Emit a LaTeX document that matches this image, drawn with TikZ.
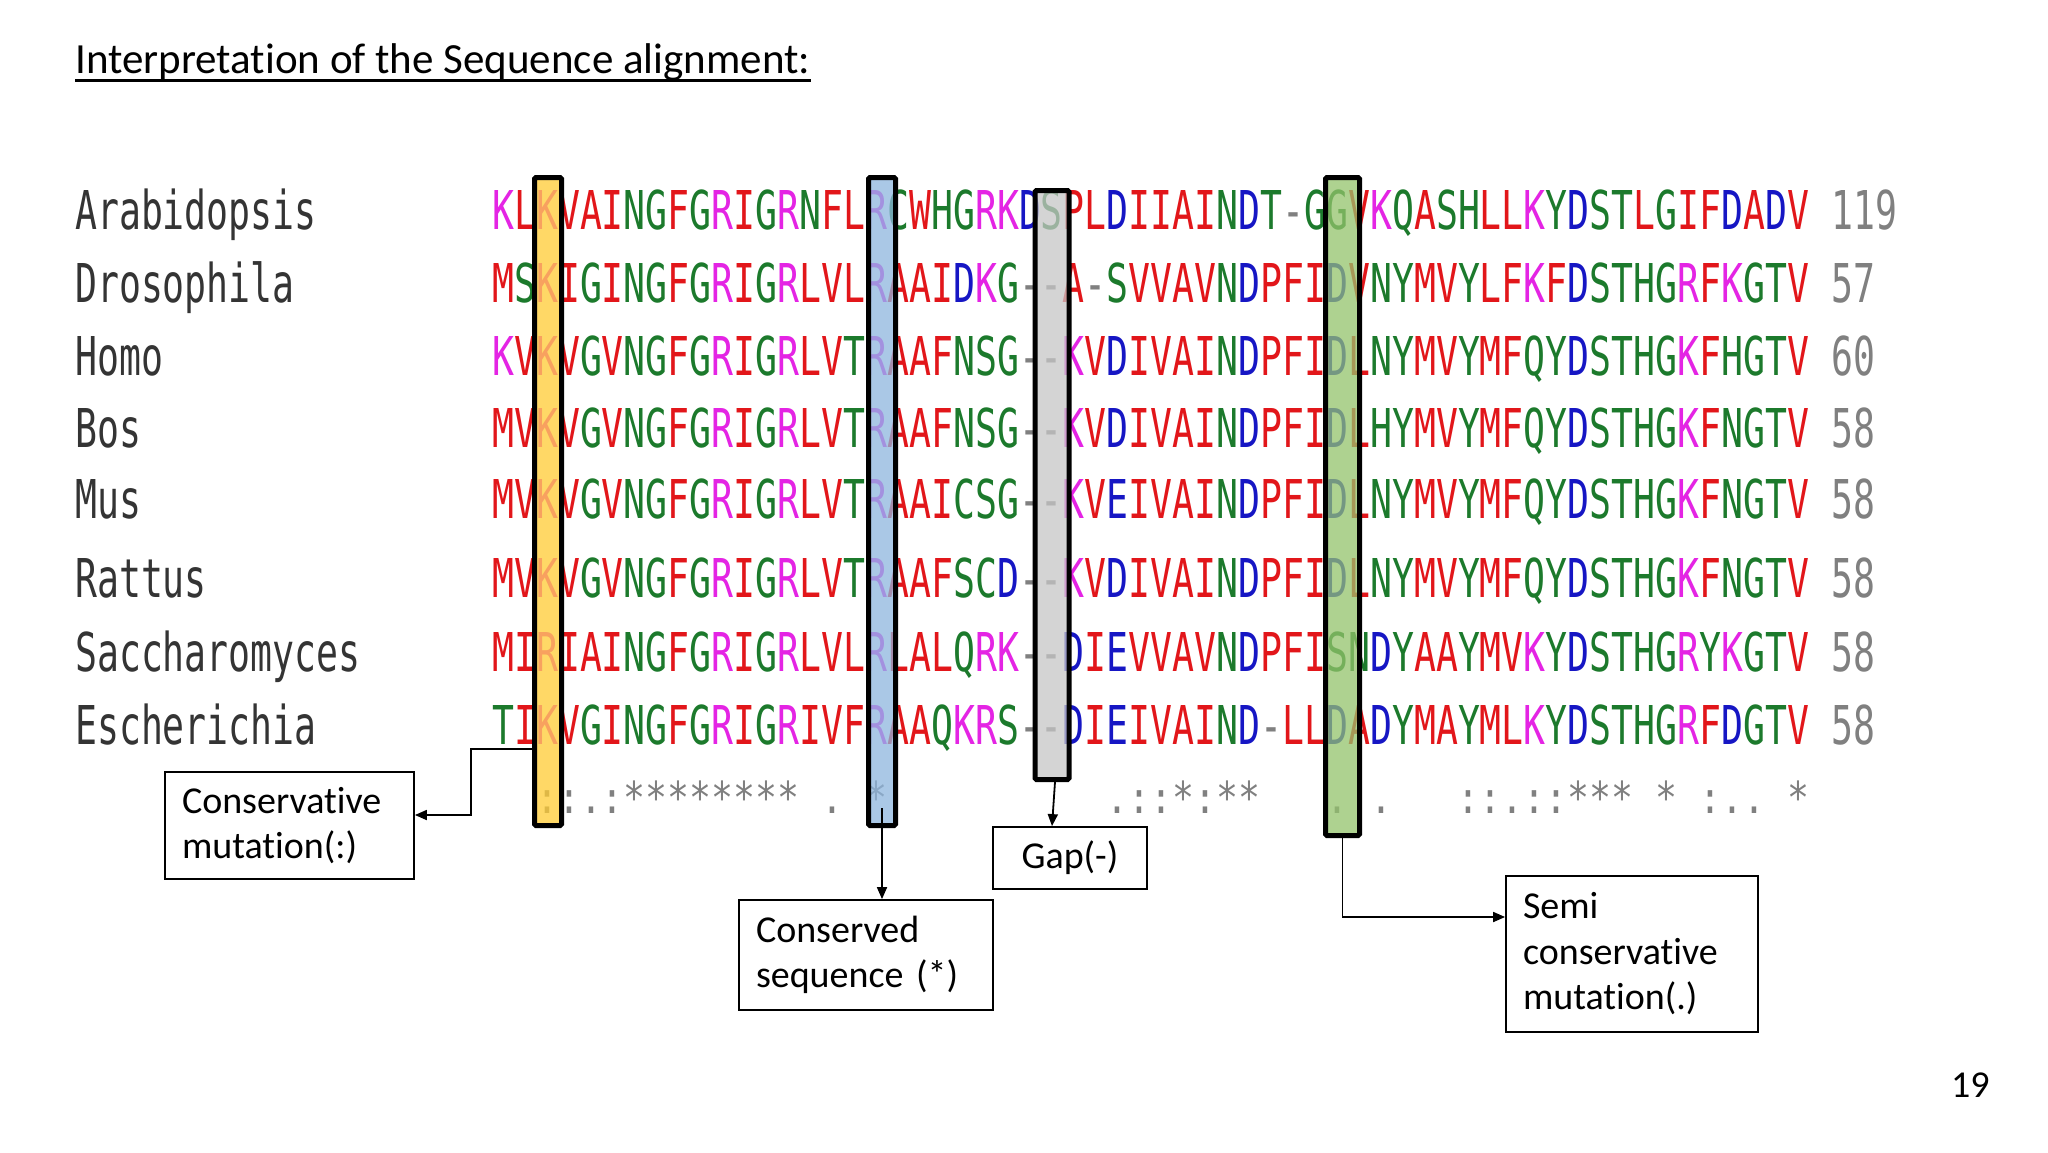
\documentclass[tikz,border=0pt]{standalone}
\usepackage{fontspec}
\setmainfont{Carlito}[Ligatures=NoCommon]
\newfontfamily\seqfont[FakeStretch=0.6815]{DejaVu Sans Mono}
\newfontfamily\consfont[FakeStretch=0.8286]{DejaVu Sans Mono}
\usepackage{tikz}
\usetikzlibrary{positioning}
\usetikzlibrary{arrows.meta}

\definecolor{aared}{RGB}{226,22,26}
\definecolor{aagreen}{RGB}{28,122,44}
\definecolor{aablue}{RGB}{22,22,196}
\definecolor{aamag}{RGB}{228,36,228}
\definecolor{aagrey}{RGB}{128,128,128}
\definecolor{namegrey}{RGB}{52,52,52}
\definecolor{hlyellow}{RGB}{255,204,51}
\definecolor{hlblue}{RGB}{142,182,222}
\definecolor{hlgrey}{RGB}{198,198,198}
\definecolor{hlgreen}{RGB}{148,195,108}

% one colour per residue
\makeatletter
\newcommand\defres[2]{\expandafter\def\csname res@#1\endcsname{\textcolor{#2}{#1}}}
\def\colseq#1{\colseq@#1\@nil}
\def\colseq@#1{\ifx#1\@nil\else\csname res@#1\endcsname\expandafter\colseq@\fi}
\expandafter\def\csname res@_\endcsname{\hphantom{*}}
\makeatother
\defres{A}{aared}\defres{V}{aared}\defres{F}{aared}\defres{P}{aared}
\defres{M}{aared}\defres{I}{aared}\defres{L}{aared}\defres{W}{aared}
\defres{D}{aablue}\defres{E}{aablue}
\defres{R}{aamag}\defres{K}{aamag}
\defres{S}{aagreen}\defres{T}{aagreen}\defres{Y}{aagreen}\defres{H}{aagreen}
\defres{C}{aagreen}\defres{N}{aagreen}\defres{G}{aagreen}\defres{Q}{aagreen}
\defres{-}{aagrey}\defres{*}{aagrey}\defres{:}{aagrey}\defres{.}{aagrey}

\tikzstyle{name_lab} = [anchor=base west, inner sep=0, text=namegrey, font=\seqfont\fontsize{53.5}{60}\selectfont]
\tikzstyle{seq_row} = [anchor=base west, inner sep=0, font=\seqfont\fontsize{53.5}{60}\selectfont]
\tikzstyle{cons_row} = [anchor=base west, inner sep=0, font=\consfont\fontsize{44}{50}\selectfont]
\tikzstyle{col_box} = [draw=black, line width=5pt, rounded corners=1.5pt, fill opacity=0.75, inner sep=0]
\tikzstyle{note} = [draw=black, line width=1.8pt, align=left, inner xsep=17pt, inner ysep=0, font=\fontsize{38}{45.5}\selectfont]
\tikzstyle{note_arrow} = [-{Triangle[length=12pt,width=10pt]}, line width=1.8pt]

\begin{document}
\begin{tikzpicture}[x=1pt, y=-1pt]
    \fill [white] (0,0) rectangle (2048,1152);
    \useasboundingbox (0,0) rectangle (2048,1152);

    \node [anchor=base west, inner sep=0, font=\fontsize{43}{50}\selectfont] (title) at (75,73) {Interpretation of the Sequence alignment:};
    \draw [line width=2.2pt] ([yshift=-7.5pt]title.base west) -- ([yshift=-7.5pt]title.base east);

    \node (arab_name) at (75,229) [name_lab] {Arabidopsis};
    \node (dros_name) at (75,302) [name_lab] {Drosophila};
    \node (homo_name) at (75,375) [name_lab] {Homo};
    \node (bos_name) at (75,447) [name_lab] {Bos};
    \node (mus_name) at (75,518) [name_lab] {Mus};
    \node (rat_name) at (75,597) [name_lab] {Rattus};
    \node (sacch_name) at (75,671) [name_lab] {Saccharomyces};
    \node (esch_name) at (75,744) [name_lab] {Escherichia};

    \node (arab_seq) at (492,229) [seq_row] {\colseq{KLKVAINGFGRIGRNFLRCWHGRKDSPLDIIAINDT-GGVKQASHLLKYDSTLGIFDADV}\textcolor{aagrey}{\hphantom{0}119}};
    \node (dros_seq) at (492,302) [seq_row] {\colseq{MSKIGINGFGRIGRLVLRAAIDKG--A-SVVAVNDPFIDVNYMVYLFKFDSTHGRFKGTV}\textcolor{aagrey}{\hphantom{0}57}};
    \node (homo_seq) at (492,375) [seq_row] {\colseq{KVKVGVNGFGRIGRLVTRAAFNSG--KVDIVAINDPFIDLNYMVYMFQYDSTHGKFHGTV}\textcolor{aagrey}{\hphantom{0}60}};
    \node (bos_seq) at (492,447) [seq_row] {\colseq{MVKVGVNGFGRIGRLVTRAAFNSG--KVDIVAINDPFIDLHYMVYMFQYDSTHGKFNGTV}\textcolor{aagrey}{\hphantom{0}58}};
    \node (mus_seq) at (492,518) [seq_row] {\colseq{MVKVGVNGFGRIGRLVTRAAICSG--KVEIVAINDPFIDLNYMVYMFQYDSTHGKFNGTV}\textcolor{aagrey}{\hphantom{0}58}};
    \node (rat_seq) at (492,597) [seq_row] {\colseq{MVKVGVNGFGRIGRLVTRAAFSCD--KVDIVAINDPFIDLNYMVYMFQYDSTHGKFNGTV}\textcolor{aagrey}{\hphantom{0}58}};
    \node (sacch_seq) at (492,671) [seq_row] {\colseq{MIRIAINGFGRIGRLVLRLALQRK--DIEVVAVNDPFISNDYAAYMVKYDSTHGRYKGTV}\textcolor{aagrey}{\hphantom{0}58}};
    \node (esch_seq) at (492,744) [seq_row] {\colseq{TIKVGINGFGRIGRIVFRAAQKRS--DIEIVAIND-LLDADYMAYMLKYDSTHGRFDGTV}\textcolor{aagrey}{\hphantom{0}58}};
    \node (cons_line) at (492,813) [cons_row] {\colseq{__::.:********_._*__________.::*:**___._.___::.::***_*_:.._*}};

    \node (k_col) at (548,501.5) [col_box, fill=hlyellow, minimum width=27pt, minimum height=648pt] {};
    \node (r_col) at (882,501.5) [col_box, fill=hlblue, minimum width=27pt, minimum height=648pt] {};
    \node (gap_col) at (1052,485) [col_box, fill=hlgrey, minimum width=34pt, minimum height=589pt] {};
    \node (d_col) at (1342.5,506.5) [col_box, fill=hlgreen, minimum width=34pt, minimum height=658pt] {};

    \node (cons_mut) at (289.5,825.5) [note, text width=215pt, minimum height=107pt] {Conservative\\mutation(:)};
    \node (cons_seq) at (866,955) [note, text width=220pt, minimum height=110pt] {Conserved\\sequence (*)};
    \node (gap_note) at (1070,858) [note, align=center, text width=120pt, minimum height=62pt] {Gap(-)};
    \node (semi_note) at (1632,954) [note, text width=218pt, minimum height=156pt] {Semi\\conservative\\mutation(.)};

    \draw [note_arrow] (k_col.west |- 0,749) -- ++(-61,0) |- (cons_mut.east |- 0,815);
    \draw [note_arrow] (r_col.south |- 0,808) -- (r_col.south |- cons_seq.north);
    \draw [note_arrow] ([xshift=3pt]gap_col.south) -- (gap_col.south |- gap_note.north);
    \draw [note_arrow] (d_col.south) |- (semi_note.west |- 0,917);

    \node [anchor=base west, inner sep=0, font=\fontsize{38}{40}\selectfont] (page_no) at (1951,1097) {19};
\end{tikzpicture}
\end{document}
